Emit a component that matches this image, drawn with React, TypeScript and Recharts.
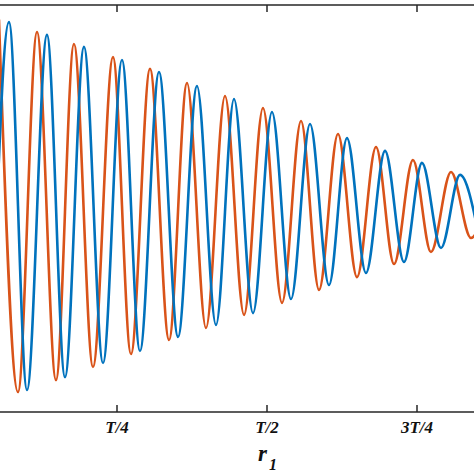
import React from 'react';
import { LineChart, Line, XAxis, YAxis } from 'recharts';

// r1 position in units of T, and normalised amplitude, read at the extrema
const orangeR = [0.0533, 0.085, 0.1167, 0.1483, 0.1783, 0.21, 0.2433, 0.2733, 0.305, 0.3367, 0.3667, 0.3983, 0.43, 0.4617, 0.4933, 0.525, 0.5567, 0.5867, 0.6183, 0.65, 0.6817, 0.7117, 0.7433, 0.7733, 0.8067, 0.84, 0.8717];
const orangeV = [0.929, -0.902, 0.867, -0.843, 0.808, -0.779, 0.744, -0.715, 0.686, -0.646, 0.617, -0.587, 0.553, -0.523, 0.494, -0.464, 0.43, -0.4, 0.366, -0.337, 0.302, -0.273, 0.238, -0.214, 0.179, -0.145, 0.115];

const blueR = [0.0383, 0.07, 0.1, 0.1333, 0.1633, 0.195, 0.2267, 0.2583, 0.2883, 0.32, 0.3517, 0.3833, 0.415, 0.445, 0.4767, 0.5083, 0.54, 0.5717, 0.6033, 0.6333, 0.665, 0.6967, 0.7283, 0.7583, 0.79, 0.8217, 0.8533];
const blueV = [-0.956, 0.916, -0.892, 0.853, -0.828, 0.794, -0.759, 0.73, -0.7, 0.671, -0.631, 0.602, -0.572, 0.538, -0.514, 0.474, -0.445, 0.415, -0.376, 0.346, -0.317, 0.283, -0.263, 0.224, -0.194, 0.165, -0.135];

const tickValues = [0.25, 0.5, 0.75];
const tickLabels = ['T/4', 'T/2', '3T/4'];

const orangeData = orangeR.map((r, i) => ({ r, v: orangeV[i] }));
const blueData = blueR.map((r, i) => ({ r, v: blueV[i] }));

const AXIS = '#262626';
const FONT = '"Liberation Serif", "Times New Roman", serif';

const BottomTick = (props: any) => {
  const { x, y, payload } = props;
  const idx = tickValues.indexOf(payload.value);
  return (
    <g>
      <line x1={x} y1={y} x2={x} y2={y - 7} stroke={AXIS} strokeWidth={1.5} />
      <text x={x} y={y + 21} textAnchor="middle" fontFamily={FONT} fontWeight="bold" fontStyle="italic" fontSize={17} fill="#111">
        {tickLabels[idx]}
      </text>
    </g>
  );
};

const TopTick = (props: any) => {
  const { x, y } = props;
  return <line x1={x} y1={y} x2={x} y2={y + 7} stroke={AXIS} strokeWidth={1.5} />;
};

const RLabel = () => (
  <text x={291} y={461} fontFamily={FONT} fontWeight="bold" fontStyle="italic" fontSize={23} fill="#111">
    r
    <tspan dx={2} dy={9} fontSize={16}>1</tspan>
  </text>
);

const App: React.FC = () => {
  return (
    <div style={{ position: 'fixed', left: 0, top: 0, width: 474, height: 474, overflow: 'hidden', background: '#fff' }}>
      <div style={{ position: 'absolute', left: -33, top: 0 }}>
        <LineChart width={600} height={474} margin={{ top: 0, right: 0, left: 0, bottom: 0 }}>
          <XAxis
            xAxisId="top"
            orientation="top"
            type="number"
            dataKey="r"
            domain={[0, 1]}
            allowDataOverflow
            height={5}
            ticks={tickValues}
            tickSize={0}
            tickMargin={0}
            tickLine={false}
            tick={<TopTick />}
            axisLine={{ stroke: AXIS, strokeWidth: 1.7 }}
          />
          <XAxis
            type="number"
            dataKey="r"
            domain={[0, 1]}
            allowDataOverflow
            height={62}
            ticks={tickValues}
            tickSize={0}
            tickMargin={0}
            tickLine={false}
            tick={<BottomTick />}
            axisLine={{ stroke: AXIS, strokeWidth: 1.7 }}
            label={<RLabel />}
          />
          <YAxis type="number" domain={[-1, 1]} hide allowDataOverflow />
          <Line data={orangeData} dataKey="v" type="monotone" stroke="#D95319" strokeWidth={2.6} dot={false} isAnimationActive={false} />
          <Line data={blueData} dataKey="v" type="monotone" stroke="#0072BD" strokeWidth={2.6} dot={false} isAnimationActive={false} />
        </LineChart>
      </div>
    </div>
  );
};

export default App;
